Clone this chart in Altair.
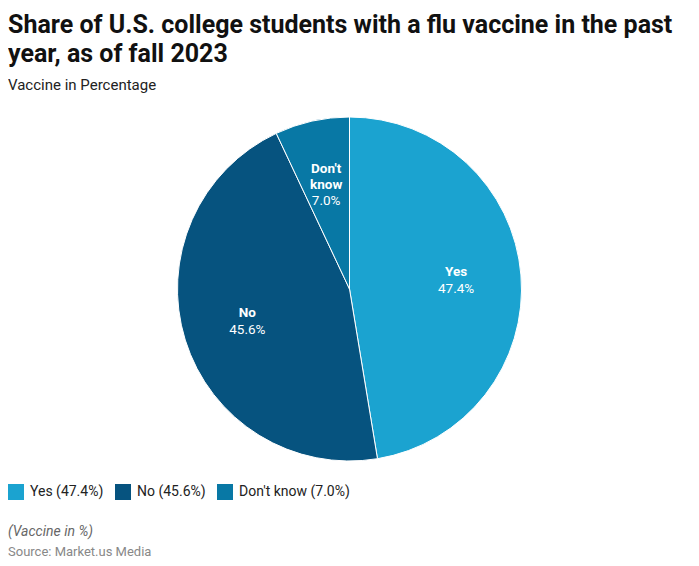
import altair as alt
import pandas as pd

# answers to "flu vaccine in the past year?" (fall 2023)
answers = ["Yes", "No", "Don't know"]
shares = [47.4, 45.6, 7.0]
colors = ["#1ba3d0", "#06537f", "#0878a5"]
label_words = [["Yes"], ["No"], ["Don't", "know"]]

df = pd.DataFrame({"answer": answers, "share": shares, "rank": range(len(answers))})
df["legend"] = [f"{a} ({s:.1f}%)" for a, s in zip(answers, shares)]
df["pct"] = [f"{s:.1f}%" for s in shares]

# one column per label line, empty where a slice has no such line
one = [len(w) == 1 for w in label_words]
df["one_name"] = [w[0] if o else "" for w, o in zip(label_words, one)]
df["one_pct"] = [p if o else "" for p, o in zip(df["pct"], one)]
df["two_a"] = [w[0] if not o else "" for w, o in zip(label_words, one)]
df["two_b"] = [w[1] if not o else "" for w, o in zip(label_words, one)]
df["two_pct"] = [p if not o else "" for p, o in zip(df["pct"], one)]

base = alt.Chart(df).encode(
    theta=alt.Theta("share:Q", stack=True),
    order=alt.Order("rank:O"),
)

pie = base.mark_arc(outerRadius=172, stroke="white", strokeWidth=1).encode(
    color=alt.Color(
        "legend:N",
        scale=alt.Scale(domain=df["legend"].tolist(), range=colors),
        legend=alt.Legend(
            title=None, orient="none", legendX=0, legendY=376,
            direction="horizontal", symbolType="square", symbolSize=256,
            symbolStrokeWidth=0, labelFont="Roboto", labelFontSize=14,
            labelColor="#222", labelOffset=6, columnPadding=11, padding=0,
        ),
    )
)


def label(field, dy, bold):
    return base.mark_text(
        radius=107, font="Roboto", fontSize=13.5, color="white", dy=dy,
        fontWeight="bold" if bold else "normal",
    ).encode(text=f"{field}:N")


labels = [
    label("one_name", -8, True),
    label("one_pct", 9, False),
    label("two_a", -16, True),
    label("two_b", 0, True),
    label("two_pct", 16, False),
]

note = alt.Chart(pd.DataFrame({"t": ["(Vaccine in %)"]})).mark_text(
    align="left", baseline="middle", font="Roboto", fontSize=14,
    fontStyle="italic", color="#666",
).encode(x=alt.value(0), y=alt.value(424), text="t:N")

source = alt.Chart(pd.DataFrame({"t": ["Source: Market.us Media"]})).mark_text(
    align="left", baseline="middle", font="Roboto", fontSize=13, color="#888",
).encode(x=alt.value(0), y=alt.value(444), text="t:N")

chart = alt.layer(pie, *labels, note, source).properties(
    width=683,
    height=362,
    autosize=alt.AutoSizeParams(type="none"),
    padding={"top": 100, "left": 0, "right": 0, "bottom": 88},
    background="white",
    title=alt.Title(
        ["Share of U.S. college students with a flu vaccine in the past",
         "year, as of fall 2023"],
        subtitle="Vaccine in Percentage",
        anchor="start", frame="group", offset=15,
        font="Roboto", fontSize=25, fontWeight="bold", color="#111",
        lineHeight=29, subtitleFont="Roboto", subtitleFontSize=15,
        subtitleColor="#222", subtitlePadding=11,
    ),
).configure_view(stroke=None)

chart.save("out.html", embed_options={"renderer": "svg", "actions": False})
